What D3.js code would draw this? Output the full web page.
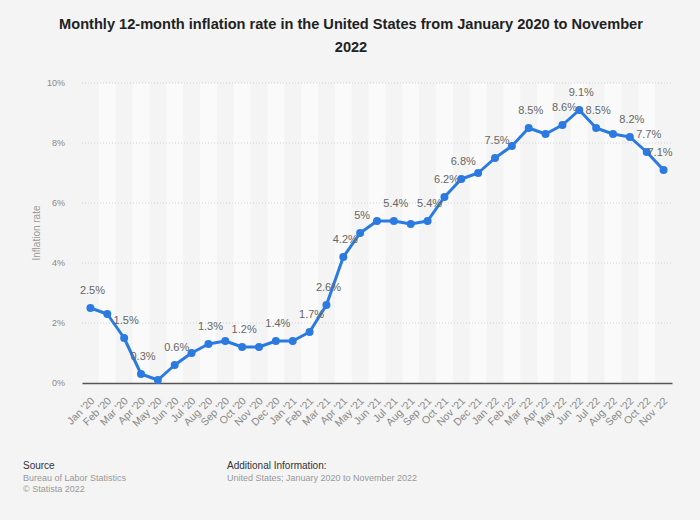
<!DOCTYPE html>
<meta charset="utf-8">
<script src="https://d3js.org/d3.v7.min.js"></script>
<style>
  body { margin: 0; background: #f4f4f4; }
  text { font-family: "Liberation Sans", Arial, sans-serif; }
</style>
<div id="chart"></div>
<script>
  // data
  var months = ["Jan '20", "Feb '20", "Mar '20", "Apr '20", "May '20", "Jun '20", "Jul '20", "Aug '20", "Sep '20", "Oct '20", "Nov '20", "Dec '20",
    "Jan '21", "Feb '21", "Mar '21", "Apr '21", "May '21", "Jun '21", "Jul '21", "Aug '21", "Sep '21", "Oct '21", "Nov '21", "Dec '21",
    "Jan '22", "Feb '22", "Mar '22", "Apr '22", "May '22", "Jun '22", "Jul '22", "Aug '22", "Sep '22", "Oct '22", "Nov '22"];
  var rates = [2.5, 2.3, 1.5, 0.3, 0.1, 0.6, 1.0, 1.3, 1.4, 1.2, 1.2, 1.4,
    1.4, 1.7, 2.6, 4.2, 5.0, 5.4, 5.4, 5.3, 5.4, 6.2, 6.8, 7.0,
    7.5, 7.9, 8.5, 8.3, 8.6, 9.1, 8.5, 8.3, 8.2, 7.7, 7.1];
  // which points carry a value label
  var labels = ["2.5%", null, "1.5%", "0.3%", null, "0.6%", null, "1.3%", null, "1.2%", null, "1.4%",
    null, "1.7%", "2.6%", "4.2%", "5%", null, "5.4%", null, "5.4%", "6.2%", "6.8%", null,
    "7.5%", null, "8.5%", null, "8.6%", "9.1%", "8.5%", null, "8.2%", "7.7%", "7.1%"];
  var yTicks = [0, 2, 4, 6, 8, 10];

  var W = 700, H = 520;
  var pLeft = 82, pRight = 672, pTop = 83, pBottom = 383;

  var svg = d3.select("#chart").append("svg")
    .attr("width", W).attr("height", H);

  svg.append("rect").attr("width", W).attr("height", H).attr("fill", "#f4f4f4");

  // title
  svg.append("text").attr("x", 351).attr("y", 29)
    .attr("text-anchor", "middle").attr("font-size", 14.6).attr("font-weight", "bold").attr("fill", "#222")
    .text("Monthly 12-month inflation rate in the United States from January 2020 to November");
  svg.append("text").attr("x", 351).attr("y", 52)
    .attr("text-anchor", "middle").attr("font-size", 14.6).attr("font-weight", "bold").attr("fill", "#222")
    .text("2022");

  var x = d3.scaleBand().domain(months).range([pLeft, pRight]);
  var y = d3.scaleLinear().domain([0, 10]).range([pBottom, pTop]);

  // alternating stripes
  svg.selectAll(".stripe")
    .data(months.filter(function (d, i) { return i % 2 == 1; }))
    .enter().append("rect")
    .attr("x", function (d) { return x(d); })
    .attr("y", y(10))
    .attr("width", x.bandwidth())
    .attr("height", y(0) - y(10))
    .attr("fill", "#fafafa");

  // grid
  svg.selectAll(".grid")
    .data(yTicks.filter(function (d) { return d > 0; }))
    .enter().append("line")
    .attr("x1", pLeft).attr("x2", pRight)
    .attr("y1", function (d) { return y(d); })
    .attr("y2", function (d) { return y(d); })
    .attr("stroke", "#d2d2d2").attr("stroke-dasharray", "1,2");

  // y axis
  var yAxis = svg.append("g")
    .attr("transform", "translate(" + (pLeft - 14) + ",0)")
    .call(d3.axisLeft(y).tickValues(yTicks).tickSize(0).tickFormat(function (d) { return d + "%"; }));
  yAxis.select(".domain").remove();
  yAxis.selectAll("text").attr("font-size", 9).attr("fill", "#888").attr("font-family", "Liberation Sans, Arial, sans-serif");

  svg.append("text")
    .attr("transform", "translate(40," + ((pTop + pBottom) / 2) + ")rotate(-90)")
    .attr("text-anchor", "middle").attr("font-size", 10).attr("fill", "#999")
    .text("Inflation rate");

  // x axis
  var xAxis = svg.append("g")
    .attr("transform", "translate(0," + pBottom + ")")
    .call(d3.axisBottom(x).tickSize(0));
  xAxis.select(".domain").attr("stroke", "#555").attr("stroke-width", 1.5);
  xAxis.selectAll("text")
    .attr("font-size", 10.5).attr("fill", "#888").attr("font-family", "Liberation Sans, Arial, sans-serif")
    .attr("x", 0).attr("y", 0).attr("dy", "0.35em")
    .attr("transform", "translate(2,16)rotate(-45)")
    .style("text-anchor", "end");

  var data = months.map(function (m, i) { return { m: m, v: rates[i], label: labels[i] }; });
  var cx = function (d) { return x(d.m) + x.bandwidth() / 2; };

  // line
  svg.append("path")
    .datum(data)
    .attr("fill", "none")
    .attr("stroke", "#2a7ae2")
    .attr("stroke-width", 3)
    .attr("stroke-linejoin", "round")
    .attr("d", d3.line().x(cx).y(function (d) { return y(d.v); }));

  svg.selectAll(".dot")
    .data(data)
    .enter().append("circle")
    .attr("cx", cx)
    .attr("cy", function (d) { return y(d.v); })
    .attr("r", 4)
    .attr("fill", "#2a7ae2");

  // value labels
  svg.selectAll(".lbl")
    .data(data.filter(function (d) { return d.label; }))
    .enter().append("text")
    .attr("x", function (d) { return Math.min(cx(d) + 2, pRight - 12); })
    .attr("y", function (d) { return y(d.v) - 14.5; })
    .attr("text-anchor", "middle")
    .attr("font-size", 11)
    .attr("fill", "#666")
    .text(function (d) { return d.label; });

  // footer
  svg.append("text").attr("x", 23).attr("y", 469).attr("font-size", 10).attr("fill", "#333").text("Source");
  svg.append("text").attr("x", 23).attr("y", 481).attr("font-size", 9).attr("fill", "#999").text("Bureau of Labor Statistics");
  svg.append("text").attr("x", 23).attr("y", 492).attr("font-size", 9).attr("fill", "#999").text("© Statista 2022");
  svg.append("text").attr("x", 227).attr("y", 469).attr("font-size", 10).attr("fill", "#333").text("Additional Information:");
  svg.append("text").attr("x", 227).attr("y", 481).attr("font-size", 9).attr("fill", "#999").text("United States; January 2020 to November 2022");
</script>
